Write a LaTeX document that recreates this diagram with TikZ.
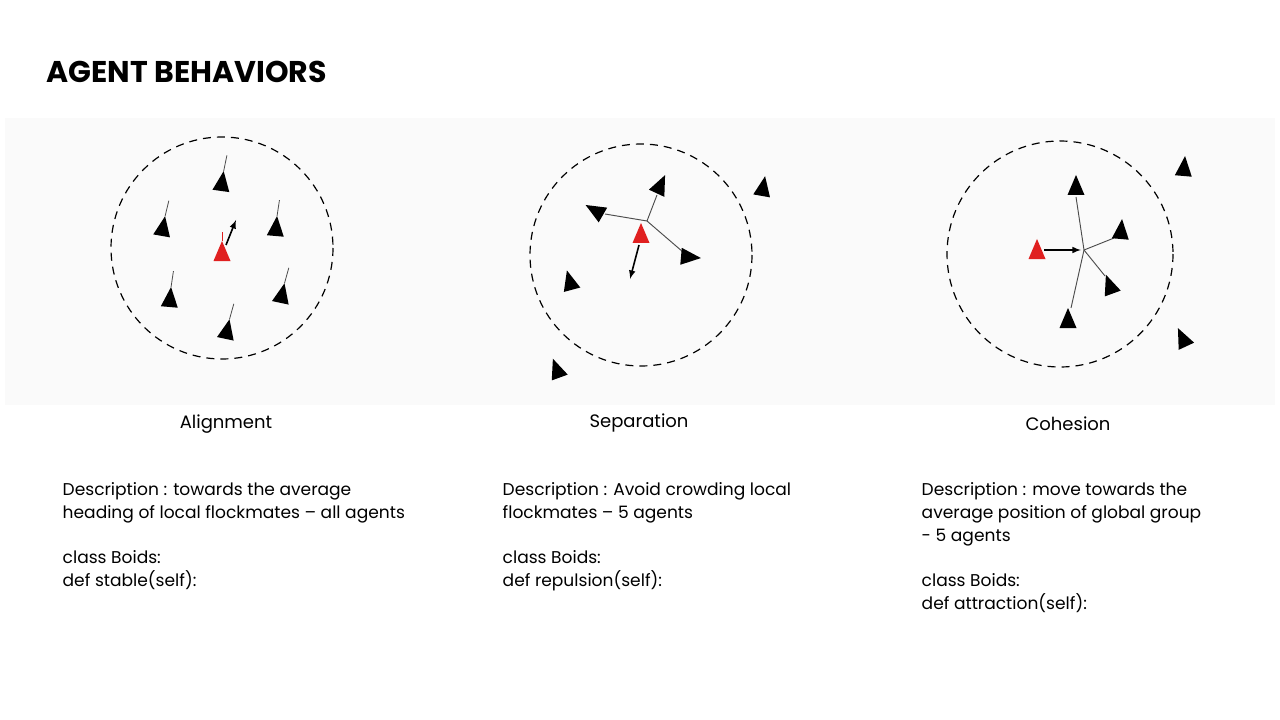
\documentclass[tikz,border=0pt]{standalone}
\usepackage{fontspec}
\setmainfont{Poppins}
\definecolor{bgr}{HTML}{FAFAFA}
\definecolor{red1}{HTML}{E02020}
\newcommand{\tri}[4][black]{\fill[#1,shift={(#2,#3)},rotate=#4] (0,-12) -- (8.5,8) -- (-8.5,8) -- cycle;}
\newcommand{\trt}[3]{\tri{#1}{#2}{#3}\draw[black!70,line width=0.6pt,shift={(#1,#2)},rotate=#3] (0,-12) -- (1,-28);}
\begin{document}
\begin{tikzpicture}[x=0.75pt,y=-0.75pt,
  circ/.style={dashed,dash pattern=on 6pt off 4.5pt,line width=0.9pt},
  thin/.style={black!70,line width=0.7pt},
  arr/.style={-latex,line width=1.2pt},
  lab/.style={font=\fontsize{13.5}{16}\selectfont,anchor=center},
  desc/.style={font=\fontsize{12.8}{17}\selectfont,anchor=north west,align=left}]
\useasboundingbox (0,0) rectangle (1280,720);
\fill[white] (0,0) rectangle (1280,720);
\fill[bgr] (5,118) rectangle (1275,405);
\node[anchor=west,font=\fontsize{22.5}{26}\selectfont\bfseries] (title) at (42,72) {AGENT BEHAVIORS};
% Alignment
\draw[circ] (222,248) circle (111);
\trt{222}{183}{-8}\trt{163}{228}{-10}\trt{276}{228}{-5}\trt{170}{299}{-5}\trt{282}{295}{-12}\trt{227}{331}{-12}
\tri[red1]{222}{253}{0}\draw[red1,line width=0.5pt] (222,241) -- (222,232);
\coordinate (ra) at (226,245); \coordinate (rb) at (236,220);
\draw[arr] (ra) -- (rb);
% Separation
\draw[circ] (641,255) circle (111);
\coordinate (j2) at (647,221);
\draw[thin] (j2) -- (605,214); \draw[thin] (j2) -- (657,195); \draw[thin] (j2) -- (683,252);
\tri{660}{186}{-25}\tri{596}{211}{60}\tri{689}{257}{-95}\tri{570}{282}{15}\tri{763}{188}{-10}\tri{557}{370}{20}
\tri[red1]{641}{235}{0}
\coordinate (sa) at (639,245); \coordinate (sb) at (630,279);
\draw[arr] (sa) -- (sb);
% Cohesion
\draw[circ] (1060,254) circle (113);
\coordinate (j3) at (1084,250);
\draw[thin] (j3) -- (1076,197); \draw[thin] (j3) -- (1114,238); \draw[thin] (j3) -- (1105,276); \draw[thin] (j3) -- (1071,308);
\tri{1076}{187}{0}\tri{1121}{231}{-5}\tri{1110}{286}{20}\tri{1068}{320}{0}\tri{1184}{168}{-5}\tri{1183}{339}{25}
\tri[red1]{1037}{251}{0}
\coordinate (ca) at (1044,250); \coordinate (cb) at (1081,250);
\draw[arr] (ca) -- (cb);
% labels
\node[lab] (l1) at (226,424) {Alignment};
\node[lab] (l2) at (639,423) {Separation};
\node[lab] (l3) at (1068,424) {Cohesion};
\node[desc] (d1) at (58,478) {Description : towards the average\\heading of local flockmates – all agents\\[17pt]class Boids:\\def stable(self):};
\node[desc] (d2) at (498,478) {Description : Avoid crowding local\\flockmates – 5 agents\\[17pt]class Boids:\\def repulsion(self):};
\node[desc] (d3) at (917,478) {Description : move towards the\\average position of global group\\- 5 agents\\[17pt]class Boids:\\def attraction(self):};
\end{tikzpicture}
\end{document}
